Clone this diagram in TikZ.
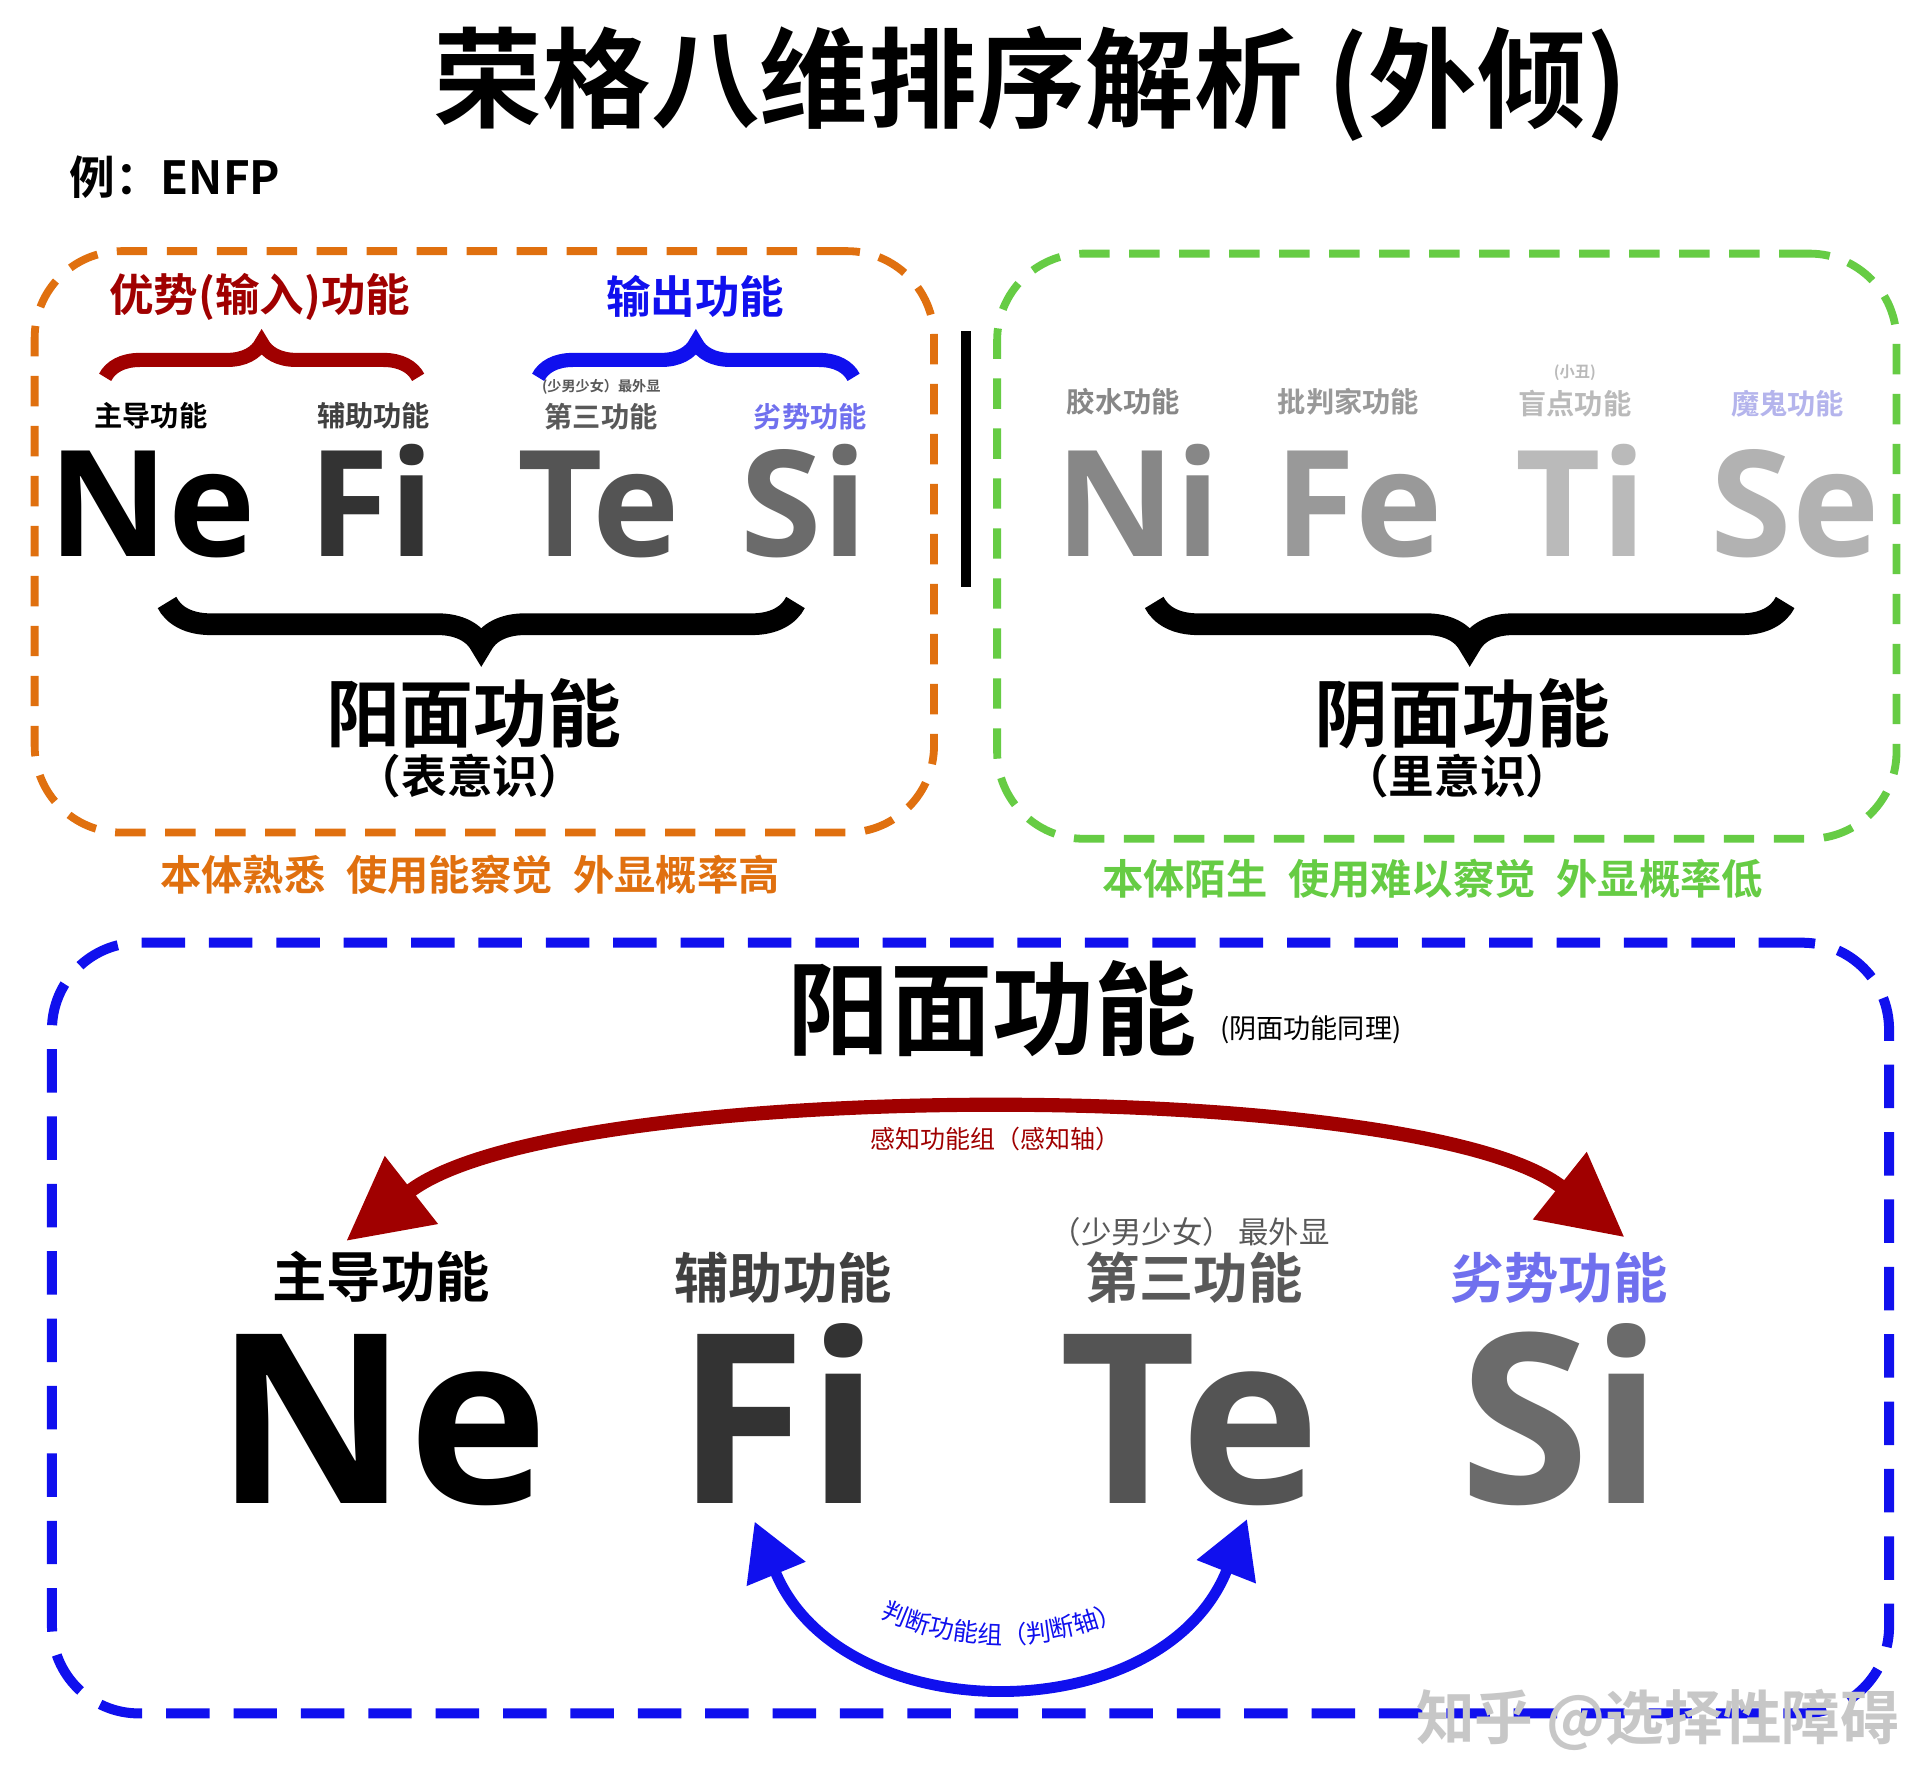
\documentclass[tikz,border=0pt]{standalone}
\usepackage{fontspec}
\setmainfont{Noto Sans CJK SC}[BoldFont={Noto Sans CJK SC Bold}]
\newfontfamily\cjk{Noto Sans CJK SC Bold}
\newfontfamily\cjkr{Noto Sans CJK SC}
\newfontfamily\lat{Open Sans}
\usetikzlibrary{decorations.pathreplacing,decorations.text,arrows.meta}
\definecolor{orng}{HTML}{E0700F}
\definecolor{grn}{HTML}{66CC44}
\definecolor{blu}{HTML}{1010EE}
\definecolor{dred}{HTML}{A00000}
\definecolor{lpur}{HTML}{7070EE}
\definecolor{llpur}{HTML}{B4B4EC}
\tikzset{
 fs/.style={font=\cjk\fontsize{#1}{#1}\selectfont},
 fr/.style={font=\cjkr\fontsize{#1}{#1}\selectfont},
 big/.style={font=\lat\bfseries\fontsize{#1}{#1}\selectfont, anchor=base, inner sep=0pt},
 dbox/.style={draw=#1, line width=3.6pt, dash pattern=on 14pt off 9pt, rounded corners=40pt},
 brc/.style={decorate, decoration={brace, amplitude=#1}},
}
\begin{document}
\begin{tikzpicture}[x=0.02cm,y=-0.02cm]
\useasboundingbox[fill=white] (0,0) rectangle (1552,1440);
\node[fs=50pt] (title) at (833,68) {荣格八维排序解析 (外倾)};
\node[fs=21pt,anchor=west] (ex) at (50,143) {例：ENFP};
% boxes
\node[dbox=orng, minimum width=727*0.02cm, minimum height=470*0.02cm] (obox) at (391.5,438) {};
\node[dbox=grn, minimum width=727*0.02cm, minimum height=473*0.02cm] (gbox) at (1169.5,441.5) {};
\node[dbox=blu, line width=4.6pt, dash pattern=on 20pt off 11pt, minimum width=1485*0.02cm, minimum height=623*0.02cm] (bbox) at (784.5,1073.5) {};
\node[fill=black, minimum width=8*0.02cm, minimum height=207*0.02cm, inner sep=0pt] (bar) at (781,371) {};
\node[fs=19pt, text=orng] (c1) at (380,707) {本体熟悉\hspace{0.5em}使用能察觉\hspace{0.5em}外显概率高};
\node[fs=19pt, text=grn] (c2) at (1158,710) {本体陌生\hspace{0.5em}使用难以察觉\hspace{0.5em}外显概率低};
% top left
\node[fs=20.5pt, text=dred] (yl) at (210,240) {优势(输入)功能};
\node[fs=20.5pt, text=blu] (sc) at (562,240) {输出功能};
\coordinate (b1a) at (85,305); \coordinate (b1b) at (338,305);
\coordinate (b2a) at (435,305); \coordinate (b2b) at (690,305);
\draw[dred, line width=6.5pt, brc=16pt] (b1a) -- (b1b);
\draw[blu, line width=6.5pt, brc=16pt] (b2a) -- (b2b);
\node[fs=13pt] (l1) at (122,336) {主导功能};
\node[fs=13pt, text=black!75] (l2) at (302,336) {辅助功能};
\node[fs=13pt, text=black!65] (l3) at (486,337) {第三功能};
\node[fs=6.5pt, text=black!65] (l3s) at (486,313) {(少男少女）最外显};
\node[fs=13pt, text=lpur] (l4) at (655,337) {劣势功能};
\node[big=68pt] (ne) at (123,450) {Ne};
\node[big=68pt, text=black!80] (fi) at (300,450) {Fi};
\node[big=68pt, text=black!67] (te) at (484,450) {Te};
\node[big=68pt, text=black!58] (si) at (650,450) {Si};
\coordinate (bb1a) at (643,487); \coordinate (bb1b) at (135,487);
\draw[line width=10pt, brc=20pt] (bb1a) -- (bb1b);
\node[fs=34pt] (yang) at (383,577) {阳面功能};
\node[fs=21pt] (yangs) at (380,627) {（表意识）};
% top right
\node[fs=13pt, text=black!47] (r1) at (908,325) {胶水功能};
\node[fs=13pt, text=black!40] (r2) at (1090,325) {批判家功能};
\node[fs=13pt, text=black!27] (r3) at (1273,326) {盲点功能};
\node[fs=7pt, text=black!27] (r3s) at (1273,301) {(小丑)};
\node[fs=13pt, text=llpur] (r4) at (1445,326) {魔鬼功能};
\node[big=68pt, text=black!47] (ni) at (920,450) {Ni};
\node[big=68pt, text=black!40] (fe) at (1098,450) {Fe};
\node[big=68pt, text=black!27] (ti) at (1278,450) {Ti};
\node[big=68pt, text=black!30] (se) at (1451,450) {Se};
\coordinate (bb2a) at (1443,487); \coordinate (bb2b) at (933,487);
\draw[line width=10pt, brc=20pt] (bb2a) -- (bb2b);
\node[fs=34pt] (yin) at (1182,577) {阴面功能};
\node[fs=21pt] (yins) at (1178,627) {（里意识）};
% bottom
\node[fs=47pt] (yang2) at (802,815) {阳面功能};
\node[fr=12.5pt, anchor=west] (tl) at (980,832) {(阴面功能同理)};
\coordinate (ra) at (280,1003); \coordinate (rb) at (1313,1000);
\draw[dred, line width=6.5pt, {Triangle[length=38pt,width=38pt]}-{Triangle[length=38pt,width=38pt]}] (ra) .. controls (450,870) and (1150,870) .. (rb);
\node[fr=11.5pt, text=dred] (rl) at (805,921) {感知功能组（感知轴）};
\node[fs=25pt] (m1) at (308,1032) {主导功能};
\node[fs=25pt, text=black!75] (m2) at (633,1033) {辅助功能};
\node[fs=25pt, text=black!65] (m3) at (965,1033) {第三功能};
\node[fr=14pt, text=black!65] (m3s) at (962,996) {（少男少女）\,最外显};
\node[fs=25pt, text=lpur] (m4) at (1260,1033) {劣势功能};
\node[big=109pt] (ne2) at (309,1215) {Ne};
\node[big=109pt, text=black!80] (fi2) at (629,1215) {Fi};
\node[big=109pt, text=black!67] (te2) at (962,1215) {Te};
\node[big=109pt, text=black!58] (si2) at (1262,1215) {Si};
\coordinate (ba) at (610,1230); \coordinate (bbb) at (1008,1228);
\draw[blu, line width=5pt, {Triangle[length=26pt,width=28pt]}-{Triangle[length=26pt,width=28pt]}] (ba) .. controls (680,1400) and (940,1400) .. (bbb);
\path[decorate, decoration={text along path, text align=center, text={|\cjkr\fontsize{11.5pt}{11.5pt}\selectfont\color{blu}|判断功能组（判断轴）}}] (690,1295) .. controls (760,1340) and (860,1340) .. (930,1295);
\node[fs=27pt, text=black!22] (wm) at (1340,1390) {知乎 @选择性障碍};
\end{tikzpicture}
\end{document}
